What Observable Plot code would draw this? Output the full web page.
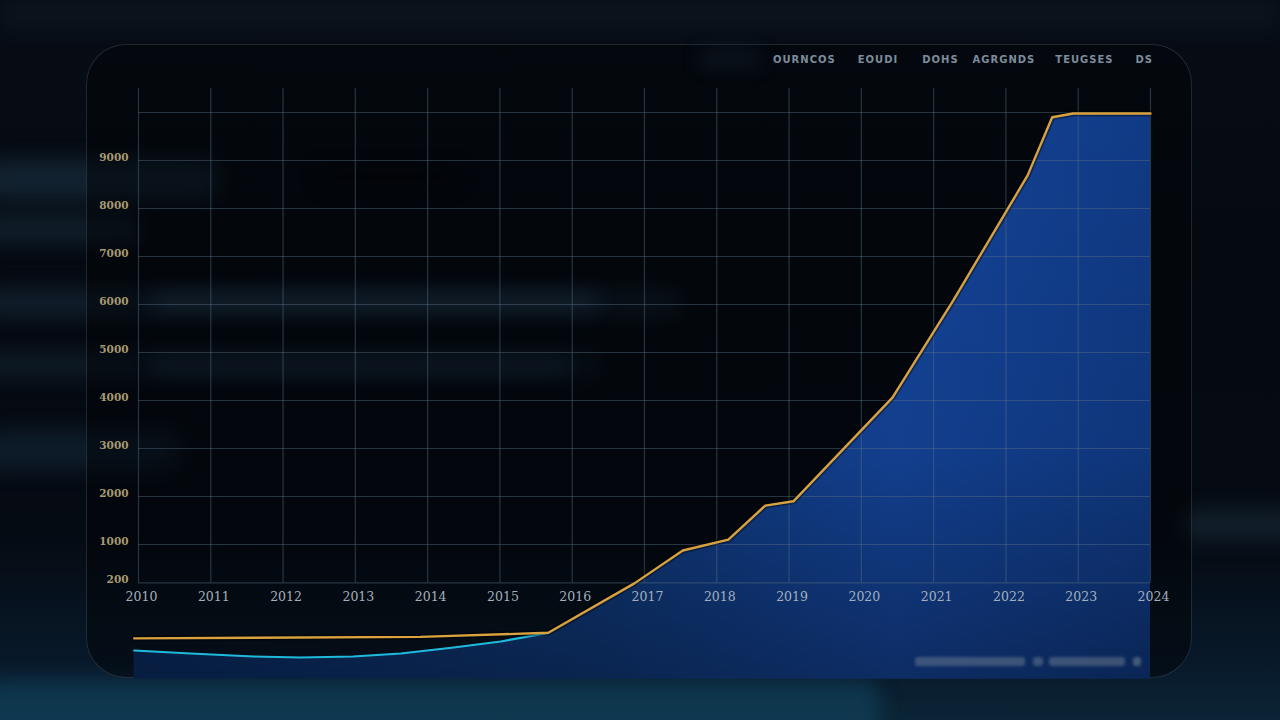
<!DOCTYPE html>
<html>
<head>
<meta charset="utf-8">
<script src="https://cdn.jsdelivr.net/npm/d3@7"></script>
<script src="https://cdn.jsdelivr.net/npm/@observablehq/plot@0.6"></script>
<style>
  html, body { margin: 0; padding: 0; }
  body {
    width: 1280px; height: 720px; overflow: hidden; position: relative;
    background: linear-gradient(180deg, #070d15 0%, #050a11 35%, #050b13 75%, #08192a 92%, #0b2536 100%);
    font-family: "DejaVu Sans", sans-serif;
  }
  .streak { position: absolute; filter: blur(10px); border-radius: 20px; }
  #panel {
    position: absolute; left: 86px; top: 44px; width: 1104px; height: 632px;
    border-radius: 40px; border: 1.5px solid rgba(95,115,135,0.30);
    background: rgba(2,5,10,0.55);
  }
  #chart { position: absolute; left: 0; top: 0; }
  #legend {
    position: absolute; top: 54px; left: 773px; color: #7d8c9c;
    font-size: 10px; letter-spacing: 1px; white-space: nowrap; font-weight: bold;
  }
  #legend span { margin-right: 22px; }
  #caption { position: absolute; left: 915px; top: 657px; height: 10px; filter: blur(1.5px); }
  #caption div { position: absolute; top: 0; height: 9px; background: rgba(120,135,150,0.45); border-radius: 3px; }
</style>
</head>
<body>
<div class="streak" style="left:0;top:0;width:1280px;height:28px;background:rgba(20,35,50,0.35)"></div>
<div class="streak" style="left:-20px;top:160px;width:240px;height:40px;background:rgba(50,90,120,0.30)"></div>
<div class="streak" style="left:-20px;top:215px;width:160px;height:28px;background:rgba(50,90,120,0.25)"></div>
<div class="streak" style="left:-20px;top:290px;width:700px;height:26px;background:rgba(45,80,110,0.30)"></div>
<div class="streak" style="left:-20px;top:352px;width:620px;height:26px;background:rgba(45,80,110,0.22)"></div>
<div class="streak" style="left:-20px;top:430px;width:200px;height:40px;background:rgba(40,80,110,0.25)"></div>
<div class="streak" style="left:1180px;top:510px;width:140px;height:30px;background:rgba(50,80,100,0.30)"></div>
<div class="streak" style="left:-20px;top:680px;width:900px;height:60px;background:rgba(20,80,110,0.45)"></div>
<div id="panel"></div>
<div class="streak" style="left:150px;top:292px;width:450px;height:20px;background:rgba(60,95,125,0.20)"></div>
<div class="streak" style="left:150px;top:356px;width:420px;height:18px;background:rgba(60,95,125,0.14)"></div>
<div class="streak" style="left:320px;top:170px;width:140px;height:14px;background:rgba(0,0,0,0.6)"></div>
<div class="streak" style="left:700px;top:52px;width:60px;height:12px;background:rgba(40,60,80,0.35)"></div>
<div id="chart"></div>
<div id="legend"><span>OURNCOS</span><span style="margin-right:24px">EOUDI</span><span style="margin-right:14px">DOHS</span><span style="margin-right:20px">AGRGNDS</span><span style="margin-right:22px">TEUGSES</span><span>DS</span></div>
<div id="caption">
  <div style="left:0;width:110px"></div>
  <div style="left:118px;width:10px"></div>
  <div style="left:134px;width:76px"></div>
  <div style="left:218px;width:8px;background:rgba(140,150,160,0.45)"></div>
</div>
<script>
// ---- data ----
const years = [2010,2011,2012,2013,2014,2015,2016,2017,2018,2019,2020,2021,2022,2023,2024];
const xTickLabels = ["2010","2011","2012","2013","2014","2015","2016","2017","2018","2019","2020","2021","2022","2023","2024"];
const yTicks = [9000,8000,7000,6000,5000,4000,3000,2000,1000,200];
const yTickLabels = ["9000","8000","7000","6000","5000","4000","3000","2000","1000","200"];
const yGrid = [10000,9000,8000,7000,6000,5000,4000,3000,2000,1000,200];

const orangeX = [2009.94, 2013.9, 2015.67, 2016.86, 2017.53, 2018.16, 2018.67, 2019.06, 2020.43, 2021.27, 2022.30, 2022.64, 2022.93, 2024.0];
const orangeY = [-955, -925, -840, 190, 875, 1100, 1810, 1900, 4060, 6080, 8690, 9900, 9980, 9980];

const cyanX = [2009.94, 2010.72, 2011.59, 2012.24, 2012.97, 2013.63, 2014.36, 2015.01, 2015.67];
const cyanY = [-1208, -1271, -1333, -1354, -1333, -1271, -1146, -1021, -840];

const yFloor = -1800;

// tables built from arrays
const orange = orangeX.map((x, i) => ({x, y: orangeY[i]}));
const cyan = cyanX.map((x, i) => ({x, y: cyanY[i]}));
const lastCyanX = cyanX[cyanX.length - 1];
const areaData = cyan.concat(orange.filter(d => d.x > lastCyanX));

const defs = () => {
  const g = d3.create("svg:g");
  const defs = g.append("defs");
  const h = defs.append("linearGradient").attr("id", "areaGradH")
    .attr("x1", "0%").attr("y1", "0%").attr("x2", "100%").attr("y2", "0%");
  h.append("stop").attr("offset", "0%").attr("stop-color", "#0a2c62");
  h.append("stop").attr("offset", "45%").attr("stop-color", "#0f3879");
  h.append("stop").attr("offset", "75%").attr("stop-color", "#14449a");
  h.append("stop").attr("offset", "100%").attr("stop-color", "#103a84");
  const v = defs.append("linearGradient").attr("id", "areaGradV")
    .attr("x1", "0%").attr("y1", "0%").attr("x2", "0%").attr("y2", "100%");
  v.append("stop").attr("offset", "0%").attr("stop-color", "#000").attr("stop-opacity", 0);
  v.append("stop").attr("offset", "60%").attr("stop-color", "#000").attr("stop-opacity", 0.08);
  v.append("stop").attr("offset", "100%").attr("stop-color", "#000").attr("stop-opacity", 0.35);
  return g.node();
};

const gridColor = "#5a7388";

const chart = Plot.plot({
  width: 1280, height: 720,
  marginLeft: 138, marginRight: 130, marginTop: 112, marginBottom: 41.6,
  x: {domain: [2010, 2024], axis: null},
  y: {domain: [yFloor, 10000], axis: null},
  style: {background: "transparent", overflow: "visible"},
  marks: [
    defs,
    Plot.area(areaData, {x1: "x", y1: yFloor, y2: "y", fill: "url(#areaGradH)"}),
    Plot.area(areaData, {x1: "x", y1: yFloor, y2: "y", fill: "url(#areaGradV)"}),
    Plot.ruleY(yGrid, {x1: 2010, x2: 2024, stroke: gridColor, strokeOpacity: 0.42, strokeWidth: 1.2}),
    Plot.ruleX(years, {y1: 200, y2: 10500, stroke: gridColor, strokeOpacity: 0.42, strokeWidth: 1.2}),
    Plot.line(cyan, {x: "x", y: "y", stroke: "#1fbadb", strokeWidth: 2.2}),
    Plot.line(orange, {x: "x", y: "y", stroke: "#000", strokeOpacity: 0.35, strokeWidth: 6}),
    Plot.line(orange, {x: "x", y: "y", stroke: "#d9a23f", strokeWidth: 2.4}),
    Plot.text(years, {x: d => d, y: 200, text: (d, i) => xTickLabels[i], dy: 14, dx: 3,
      fill: "#a3b0be", fontSize: 12.5, fontFamily: "DejaVu Serif", letterSpacing: 3}),
    Plot.text(yTicks, {x: 2010, y: d => d, text: (d, i) => yTickLabels[i], dx: -10, dy: -3,
      textAnchor: "end", fill: "#a89a72", fontSize: 10.5, fontWeight: "bold", fontFamily: "DejaVu Serif", letterSpacing: 1.8})
  ]
});
document.getElementById("chart").appendChild(chart);
</script>
</body>
</html>
